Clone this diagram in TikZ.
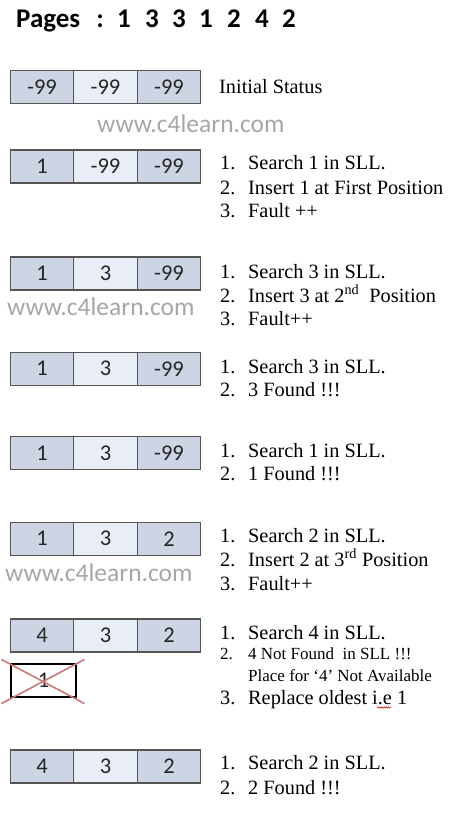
\documentclass[tikz,border=0pt]{standalone}
\usepackage{fontspec}
\setmainfont{Liberation Serif}
\setsansfont{Carlito}
\usetikzlibrary{decorations.pathmorphing}
\definecolor{cellA}{HTML}{CDD5E4}
\definecolor{cellB}{HTML}{E9EDF5}
\definecolor{cellline}{HTML}{555555}
\definecolor{wm}{HTML}{A6A6A6}
\definecolor{crossred}{HTML}{C97A78}
\newcommand\memrow[5]{%
  \node[cellouter] (#1a) at (42,#2) {#3};
  \node[cellinner] (#1b) at (105.5,#2) {#4};
  \node[cellouter] (#1c) at (169,#2) {#5};
}
\begin{document}
\begin{tikzpicture}[x=1pt,y=-1pt,
  cellbase/.style={draw=cellline, line width=1.1pt, minimum width=63.5pt, minimum height=33pt, inner sep=0pt, font=\sffamily\fontsize{22.5}{24}\selectfont, text=black!85},
  cellouter/.style={cellbase, fill=cellA},
  cellinner/.style={cellbase, fill=cellB},
  item/.style={anchor=base west, inner sep=0pt, font=\fontsize{20.3}{22}\selectfont},
  smallitem/.style={anchor=base west, inner sep=0pt, font=\fontsize{17}{19}\selectfont},
  watermark/.style={anchor=base west, inner sep=0pt, text=wm, font=\sffamily\fontsize{25.5}{27}\selectfont},
  title/.style={anchor=base, inner sep=0pt, font=\sffamily\bfseries\fontsize{27}{29}\selectfont},
  cross/.style={draw=crossred, line width=1.6pt}
]
\useasboundingbox (0,0) rectangle (474,822);

% title
\node[title, anchor=base west] (tp) at (16,27) {Pages};
\node[title] (tc) at (100,27) {:};
\node[title] (t1) at (124,27) {1};
\node[title] (t2) at (152,27) {3};
\node[title] (t3) at (179,27) {3};
\node[title] (t4) at (206,27) {1};
\node[title] (t5) at (234,27) {2};
\node[title] (t6) at (262,27) {4};
\node[title] (t7) at (289,27) {2};

% row 1
\memrow{r1}{87}{-99}{-99}{-99}
\node[item] (r1t) at (219,93.3) {Initial Status};
\node[watermark] (w1) at (97,132) {www.c4learn.com};

% row 2
\memrow{r2}{166.5}{1}{-99}{-99}
\node[item] (r2n1) at (220,169.5) {1.};
\node[item] (r2l1) at (248,169.5) {Search 1 in SLL.};
\node[item] (r2n2) at (220,194) {2.};
\node[item] (r2l2) at (248,194) {Insert 1 at First Position};
\node[item] (r2n3) at (220,217.5) {3.};
\node[item] (r2l3) at (248,217.5) {Fault ++};

% row 3
\memrow{r3}{273.5}{1}{3}{-99}
\node[item] (r3n1) at (220,278.3) {1.};
\node[item] (r3l1) at (248,278.3) {Search 3 in SLL.};
\node[item] (r3n2) at (220,302.5) {2.};
\node[item] (r3l2) at (248,302.5) {Insert 3 at 2\textsuperscript{nd}\ \ Position};
\node[item] (r3n3) at (220,325) {3.};
\node[item] (r3l3) at (248,325) {Fault++};
\node[watermark] (w2) at (7,315) {www.c4learn.com};

% row 4
\memrow{r4}{368.7}{1}{3}{-99}
\node[item] (r4n1) at (220,373.3) {1.};
\node[item] (r4l1) at (248,373.3) {Search 3 in SLL.};
\node[item] (r4n2) at (220,396.7) {2.};
\node[item] (r4l2) at (248,396.7) {3 Found !!!};

% row 5
\memrow{r5}{453}{1}{3}{-99}
\node[item] (r5n1) at (220,457.3) {1.};
\node[item] (r5l1) at (248,457.3) {Search 1 in SLL.};
\node[item] (r5n2) at (220,480.7) {2.};
\node[item] (r5l2) at (248,480.7) {1 Found !!!};

% row 6
\memrow{r6}{538.7}{1}{3}{2}
\node[item] (r6n1) at (220,542.7) {1.};
\node[item] (r6l1) at (248,542.7) {Search 2 in SLL.};
\node[item] (r6n2) at (220,566) {2.};
\node[item] (r6l2) at (248,566) {Insert 2 at 3\textsuperscript{rd} Position};
\node[item] (r6n3) at (220,590) {3.};
\node[item] (r6l3) at (248,590) {Fault++};
\node[watermark] (w3) at (5,581.7) {www.c4learn.com};

% row 7
\memrow{r7}{635.5}{4}{3}{2}
\node[item] (r7n1) at (220,639.3) {1.};
\node[item] (r7l1) at (248,639.3) {Search 4 in SLL.};
\node[smallitem] (r7n2) at (220,659.3) {2.};
\node[smallitem] (r7l2) at (248,659.3) {4 Not Found\ \ in SLL !!!};
\node[smallitem] (r7l2b) at (248,681) {Place for ‘4’ Not Available};
\node[item] (r7n3) at (220,704) {3.};
\node[item] (r7l3) at (248,704) {Replace oldest i.e 1};
\draw[red!80!black, line width=0.5pt, decorate, decoration={snake, amplitude=0.7pt, segment length=2.2pt}] (377,707.5) -- (391,707.5);

\node[draw=black, line width=1.1pt, fill=white, minimum width=65pt, minimum height=33pt, inner sep=0pt, font=\sffamily\fontsize{22.5}{24}\selectfont, text=black!85] (old) at (43.5,680.5) {1};
\draw[cross] ([shift={(-9,6)}]old.south west) -- ([shift={(8,-4)}]old.north east);
\draw[cross] ([shift={(-9,-4)}]old.north west) -- ([shift={(8,6)}]old.south east);

% row 8
\memrow{r8}{766.5}{4}{3}{2}
\node[item] (r8n1) at (220,769.3) {1.};
\node[item] (r8l1) at (248,769.3) {Search 2 in SLL.};
\node[item] (r8n2) at (220,794) {2.};
\node[item] (r8l2) at (248,794) {2 Found !!!};
\end{tikzpicture}
\end{document}
